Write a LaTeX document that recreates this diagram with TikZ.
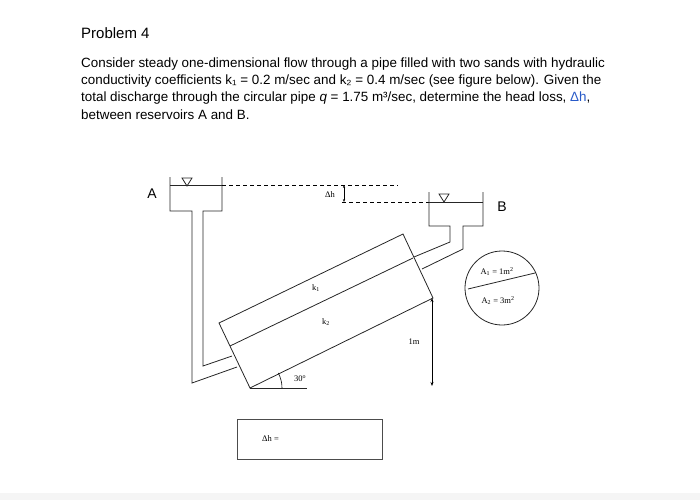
\documentclass[tikz,border=0pt]{standalone}
\usepackage{fontspec}
\setmainfont{Liberation Sans}
\newfontfamily\serifx{Liberation Serif}
\usetikzlibrary{arrows.meta}
\begin{document}
\begin{tikzpicture}[x=1pt,y=-1pt,
  ln/.style={line width=0.8pt,black!85},
  txt/.style={anchor=west,inner sep=0pt,font=\fontsize{13.4}{15}\selectfont},
  lab/.style={inner sep=0pt,font=\serifx\fontsize{8.5}{10}\selectfont},
  dsh/.style={line width=0.8pt,dash pattern=on 4pt off 3pt}]
\useasboundingbox (0,0) rectangle (700,500);
\fill[black!4] (0,493) rectangle (700,500);
\node[txt,font=\fontsize{15}{17}\selectfont] (title) at (81,33) {Problem 4};
\node[txt] (l1) at (81,64) {Consider steady one-dimensional flow through a pipe filled with two sands with hydraulic};
\node[txt] (l2) at (81,81) {conductivity coefficients k₁ = 0.2 m/sec and k₂ = 0.4 m/sec (see figure below). Given the};
\node[txt] (l3) at (81,98) {total discharge through the circular pipe \textit{q} = 1.75 m³/sec, determine the head loss, \textcolor[RGB]{40,90,200}{Δh},};
\node[txt] (l4) at (81,115) {between reservoirs A and B.};
% tank A
\draw[ln] (170,177) -- (170,211) -- (192,211) -- (192,383) -- (237,367);
\draw[ln] (222,177) -- (222,211) -- (203,211) -- (203,366) -- (232,356);
\draw[ln] (170,185) -- (222,185);
\draw[ln] (182,178) -- (192,178) -- (187,186) -- cycle;
\node[font=\fontsize{14}{16}\selectfont] (A) at (152,194) {A};
% dashed levels
\draw[dsh] (222,185) -- (398,185);
\draw[dsh] (342,202) -- (429,202);
\coordinate (d1) at (344,185); \coordinate (d2) at (344,202);
\draw[line width=0.6pt,{Stealth[length=3pt]}-{Stealth[length=3pt]}] (d1) -- (d2);
\node[lab] (dh) at (330,195) {Δh};
% tank B
\draw[ln] (429,192) -- (429,226) -- (450,226) -- (450,242) -- (414,257);
\draw[ln] (483,192) -- (483,226) -- (463,226) -- (463,249) -- (422,269);
\draw[ln] (429,202) -- (483,202);
\draw[ln] (439,194) -- (449,194) -- (444,202) -- cycle;
\node[font=\fontsize{14}{16}\selectfont] (B) at (502,207) {B};
% rotated rectangle
\draw[ln] (250,388) -- (219,323) -- (403,234) -- (433,298) -- cycle;
\draw[ln] (230,346) -- (413,258);
\node[lab] (k1) at (316,288) {k\textsubscript{1}};
\node[lab] (k2) at (326,322) {k\textsubscript{2}};
% angle
\draw[ln] (250,388) -- (307,388);
\draw[line width=0.6pt] (282,388) arc[start angle=0,end angle=-28,radius=32];
\node[lab] (ang) at (300,379) {30\textsuperscript{o}};
% 1m
\coordinate (m1) at (432,298); \coordinate (m2) at (432,386);
\draw[line width=0.7pt,{Stealth[length=4pt]}-{Stealth[length=4pt]}] (m1) -- (m2);
\node[lab] (one) at (414,342) {1m};
% circle
\draw[ln] (502,288) circle (37);
\draw[ln] (468,289) -- (535,273);
\node[lab] (a1) at (497,272) {A\textsubscript{1} = 1m\textsuperscript{2}};
\node[lab] (a2) at (498,301) {A\textsubscript{2} = 3m\textsuperscript{2}};
% answer box
\draw[line width=0.8pt,black!70] (237,419) rectangle (382,459);
\node[lab,anchor=west] (ans) at (262,439) {Δh =};
\end{tikzpicture}
\end{document}
